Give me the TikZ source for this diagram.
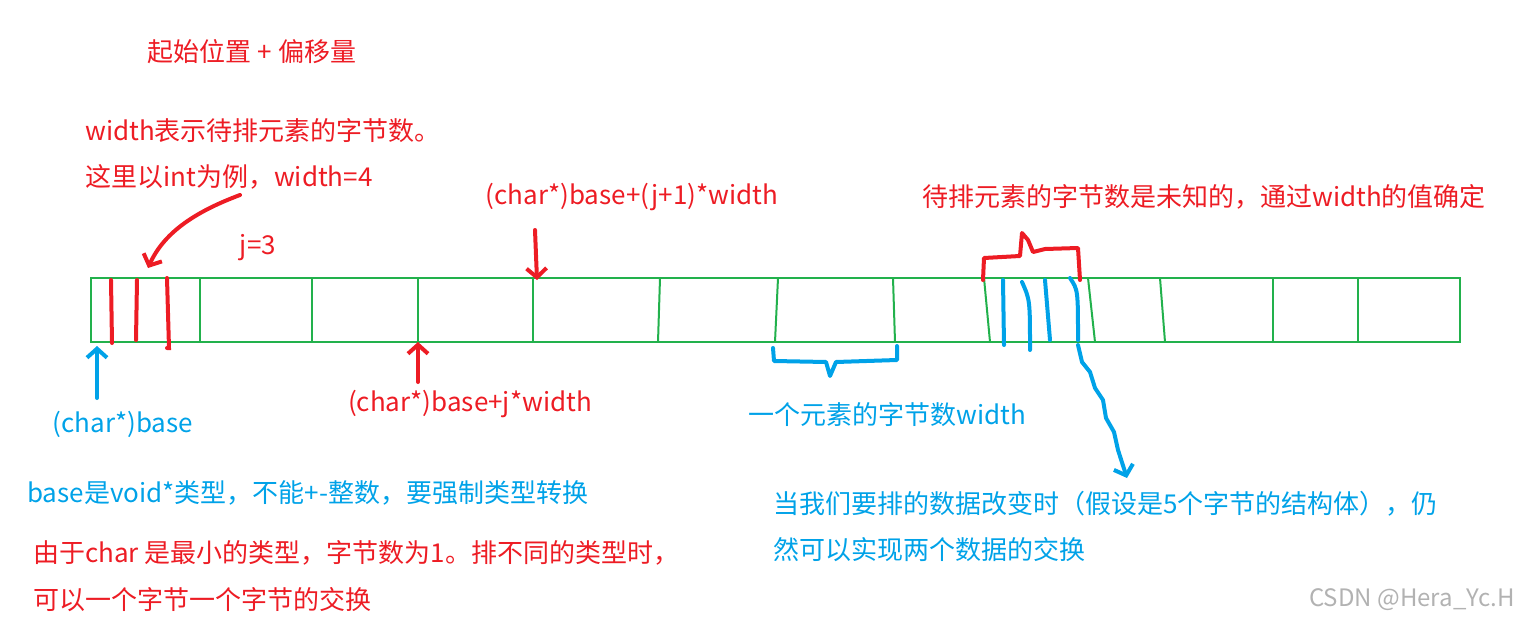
\documentclass[tikz,border=0pt]{standalone}
\usepackage{fontspec}
\setmainfont{Noto Sans CJK SC}
\usetikzlibrary{arrows.meta}
\definecolor{rd}{RGB}{237,28,36}
\definecolor{bl}{RGB}{0,162,232}
\definecolor{gn}{RGB}{34,177,76}
\tikzset{
 rt/.style={text=rd,font=\fontsize{26}{30}\selectfont,inner sep=0pt},
 bt/.style={text=bl,font=\fontsize{26}{30}\selectfont,inner sep=0pt},
 gl/.style={draw=gn,line width=2pt},
 rl/.style={draw=rd,line width=4pt,line cap=round},
 bll/.style={draw=bl,line width=4pt,line cap=round},
 barb/.style={-{Straight Barb[length=9pt,width=20pt]}},
}
\begin{document}
\begin{tikzpicture}[x=1pt,y=-1pt]
\useasboundingbox (0,0) rectangle (1523,626);
% bar
\draw[gl] (91,278) rectangle (1460,342);
\foreach \a/\b in {200/200,312/312,418/418,533/533,660/658,778/775,893/895,984/990,1088/1095,1160/1165,1273/1273,1358/1358}
  \draw[gl] (\a,278) -- (\b,342);
% red byte lines
\draw[rl] (111,280) -- (112,343);
\draw[rl] (137,280) -- (136,340);
\draw[rl] (167,278) -- (169,348) -- (167,348);
% blue byte lines
\draw[bll] (1003,280) -- (1004,345);
\draw[bll] (1022,282) .. controls (1030,300) .. (1030,350);
\draw[bll] (1045,280) -- (1050,340);
\draw[bll] (1070,278) .. controls (1078,290) .. (1078,340);
% texts
\node[rt] (t1) at (252,52) {起始位置 + 偏移量};
\node[rt,anchor=west] (t2) at (85,131) {width表示待排元素的字节数。};
\node[rt,anchor=west] (t3) at (85,177) {这里以int为例，width=4};
\node[rt] (j) at (258,248) {j=3};
\node[rt] (t4) at (632,197) {(char*)base+(j+1)*width};
\node[rt,anchor=west] (t5) at (922,197) {待排元素的字节数是未知的，通过width的值确定};
\node[rt] (t6) at (470,404) {(char*)base+j*width};
\node[bt] (t7) at (123,424) {(char*)base};
\node[bt,anchor=west] (t8) at (748,415) {一个元素的字节数width};
\node[bt,anchor=west] (t9) at (27,493) {base是void*类型，不能+-整数，要强制类型转换};
\node[rt,anchor=west] (t10) at (33,553) {由于char 是最小的类型，字节数为1。排不同的类型时，};
\node[rt,anchor=west] (t11) at (33,600) {可以一个字节一个字节的交换};
\node[bt,anchor=west] (t12) at (773,504) {当我们要排的数据改变时（假设是5个字节的结构体），仍};
\node[bt,anchor=west] (t13) at (773,550) {然可以实现两个数据的交换};
\node[text=gray!60,font=\fontsize{24}{28}\selectfont,anchor=east] (wm) at (1518,600) {CSDN @Hera\_Yc.H};
% arrows
\draw[rl,barb] (240,195) .. controls (200,210) and (165,230) .. (148,268);
\draw[rl,barb] (535,230) -- (537,280);
\draw[rl,barb] (418,382) -- (418,342);
\draw[bll,barb] (97,398) -- (97,346);
% blue brace
\draw[bll,line join=round] (773,348) -- (774,361) -- (826,362) -- (830,376) -- (836,362) -- (897,360) -- (897,346);
% red bracket
\draw[rl,line join=round] (983,280) -- (984,258) -- (1020,256) -- (1022,233) -- (1028,240) -- (1033,252) -- (1045,249) -- (1078,248) -- (1080,280);
% blue wavy arrow
\draw[bll,barb] (1078,345) -- (1082,362) -- (1090,372) -- (1095,388) -- (1103,400) -- (1106,418) -- (1114,432) -- (1118,450) -- (1127,478);
\end{tikzpicture}
\end{document}
